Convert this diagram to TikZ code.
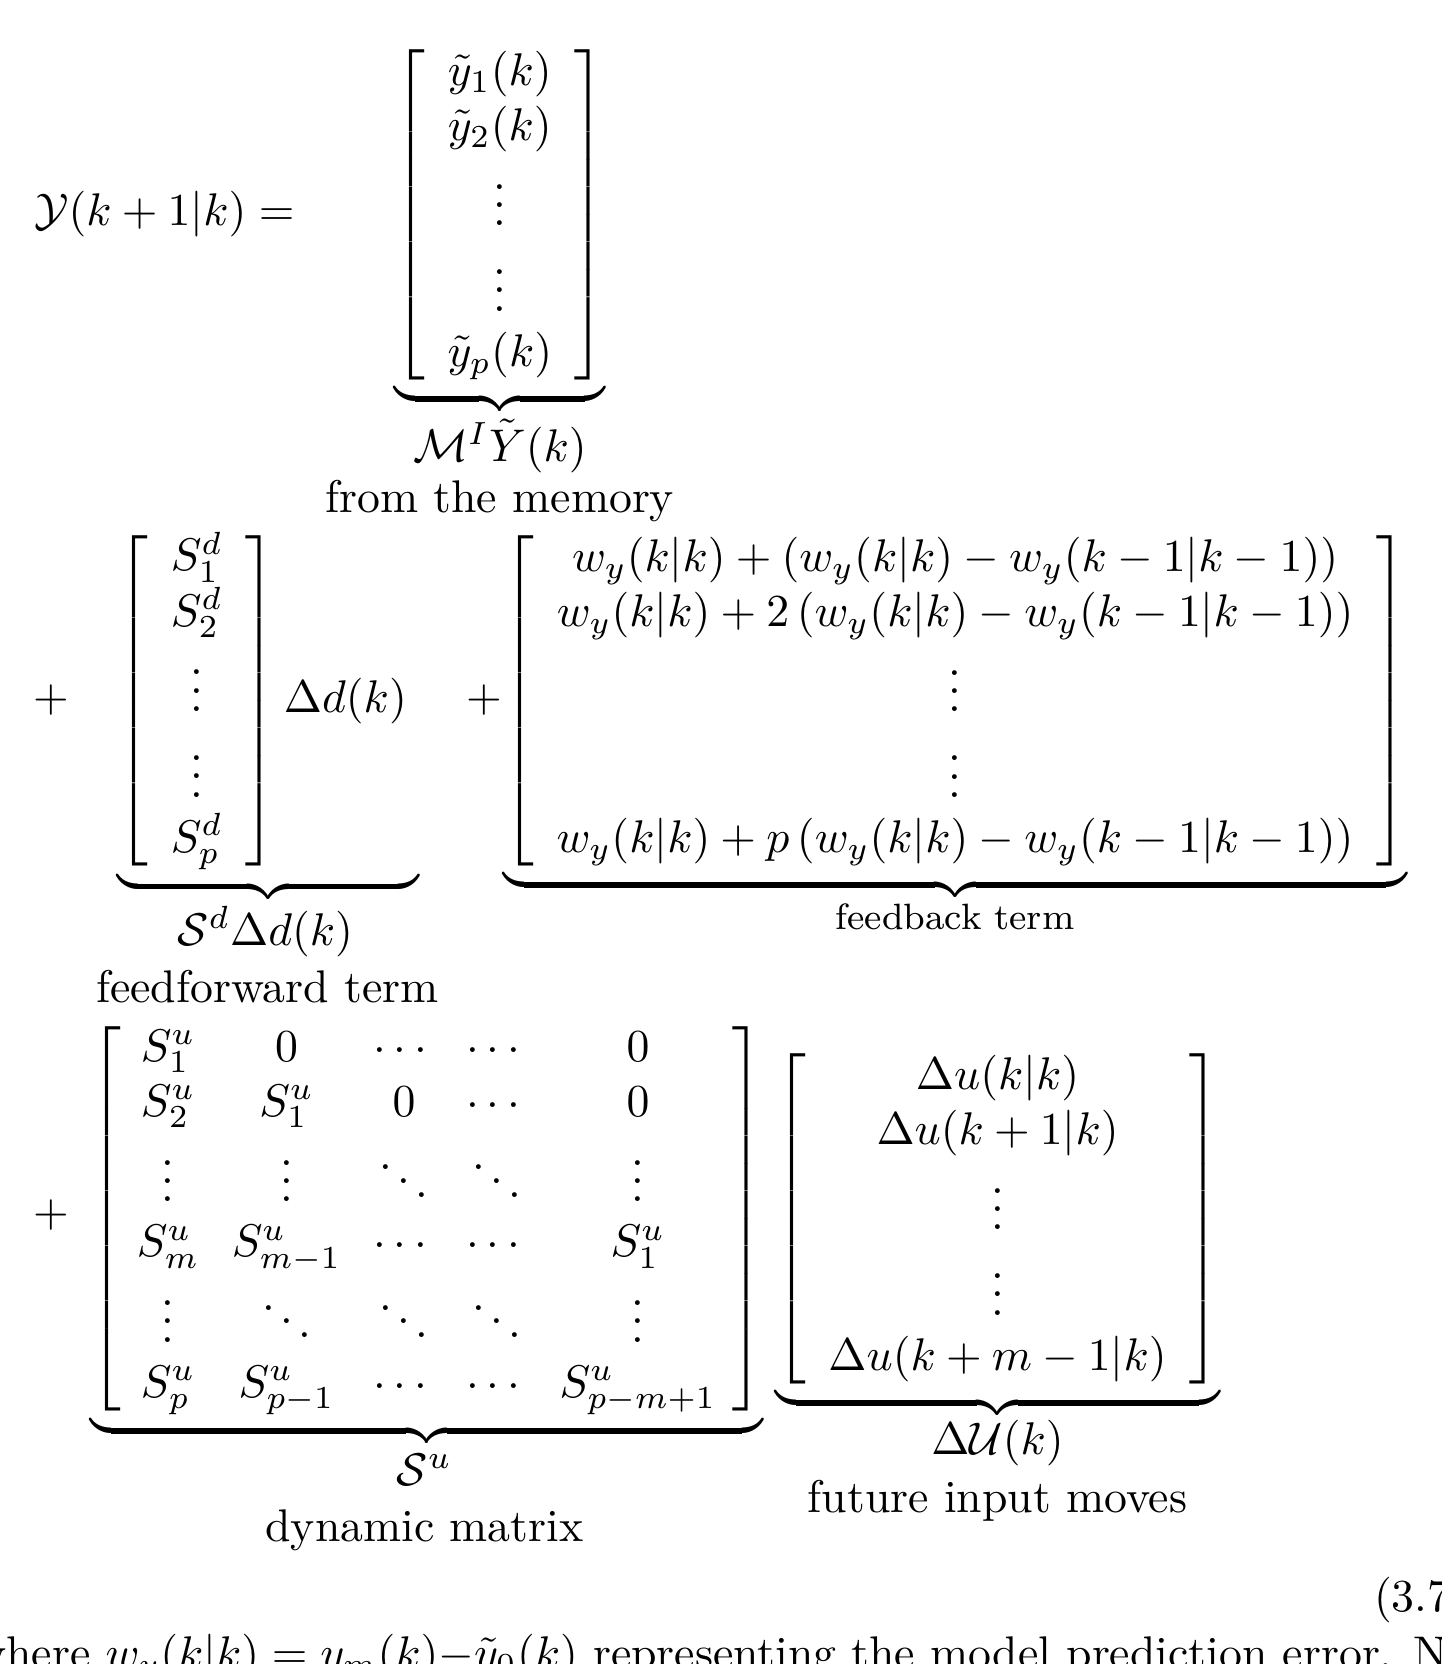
\documentclass[tikz,border=0pt]{standalone}
\usepackage{amsmath,amssymb}
\begin{document}
\begin{tikzpicture}[x=0.00815cm,y=-0.00815cm,
  lbl/.style={inner sep=0pt,anchor=center}]
\clip (0,0) rectangle (1358,1568);
\useasboundingbox (0,0) rectangle (1358,1568);
\node[lbl] (lhs) at (155,202) {$\mathcal{Y}(k+1|k) =$};
\node[lbl] (m1) at (471,218) {$\underbrace{\left[\begin{array}{c}\tilde y_1(k)\\ \tilde y_2(k)\\ \vdots\\ \vdots\\ \tilde y_p(k)\end{array}\right]}$};
\node[lbl] (m1a) at (471,420) {$\mathcal{M}^I\tilde Y(k)$};
\node[lbl] (m1b) at (471,472) {from the memory};
\node[lbl] (p1) at (48,660) {$+$};
\node[lbl] (m2) at (253,676) {$\underbrace{\left[\begin{array}{c}S_1^d\\ S_2^d\\ \vdots\\ \vdots\\ S_p^d\end{array}\right]\Delta d(k)\;}$};
\node[lbl] (m2a) at (250,878) {$\mathcal{S}^d\Delta d(k)$};
\node[lbl] (m2b) at (252,930) {feedforward term};
\node[lbl] (p2) at (456,660) {$+$};
\node[lbl] (m3) at (900,676) {$\underbrace{\left[\begin{array}{c}w_y(k|k)+(w_y(k|k)-w_y(k-1|k-1))\\ w_y(k|k)+2\,(w_y(k|k)-w_y(k-1|k-1))\\ \vdots\\ \vdots\\ w_y(k|k)+p\,(w_y(k|k)-w_y(k-1|k-1))\end{array}\right]}$};
\node[lbl] (m3a) at (900,864) {\footnotesize feedback term};
\node[lbl] (p3) at (48,1145) {$+$};
\node[lbl] (m4) at (402,1164) {$\setlength{\arraycolsep}{3.5pt}\underbrace{\left[\begin{array}{ccccc}S_1^u&0&\cdots&\cdots&0\\ S_2^u&S_1^u&0&\cdots&0\\ \vdots&\vdots&\ddots&\ddots&\vdots\\ S_m^u&S_{m-1}^u&\cdots&\cdots&S_1^u\\ \vdots&\ddots&\ddots&\ddots&\vdots\\ S_p^u&S_{p-1}^u&\cdots&\cdots&S_{p-m+1}^u\end{array}\right]}$};
\node[lbl] (m4a) at (400,1385) {$\mathcal{S}^u$};
\node[lbl] (m4b) at (400,1442) {dynamic matrix};
\node[lbl] (m5) at (940,1164) {$\underbrace{\left[\begin{array}{c}\Delta u(k|k)\\ \Delta u(k+1|k)\\ \vdots\\ \vdots\\ \Delta u(k+m-1|k)\end{array}\right]}$};
\node[lbl] (m5a) at (940,1360) {$\Delta\mathcal{U}(k)$};
\node[lbl] (m5b) at (940,1414) {future input moves};
\node[lbl,anchor=west] (eq) at (1294,1508) {(3.7)};
\node[lbl,anchor=west] (txt) at (-26,1562) {where $w_y(k|k)=y_m(k){-}\tilde y_0(k)$ representing the model prediction error. Notice};
\end{tikzpicture}
\end{document}
